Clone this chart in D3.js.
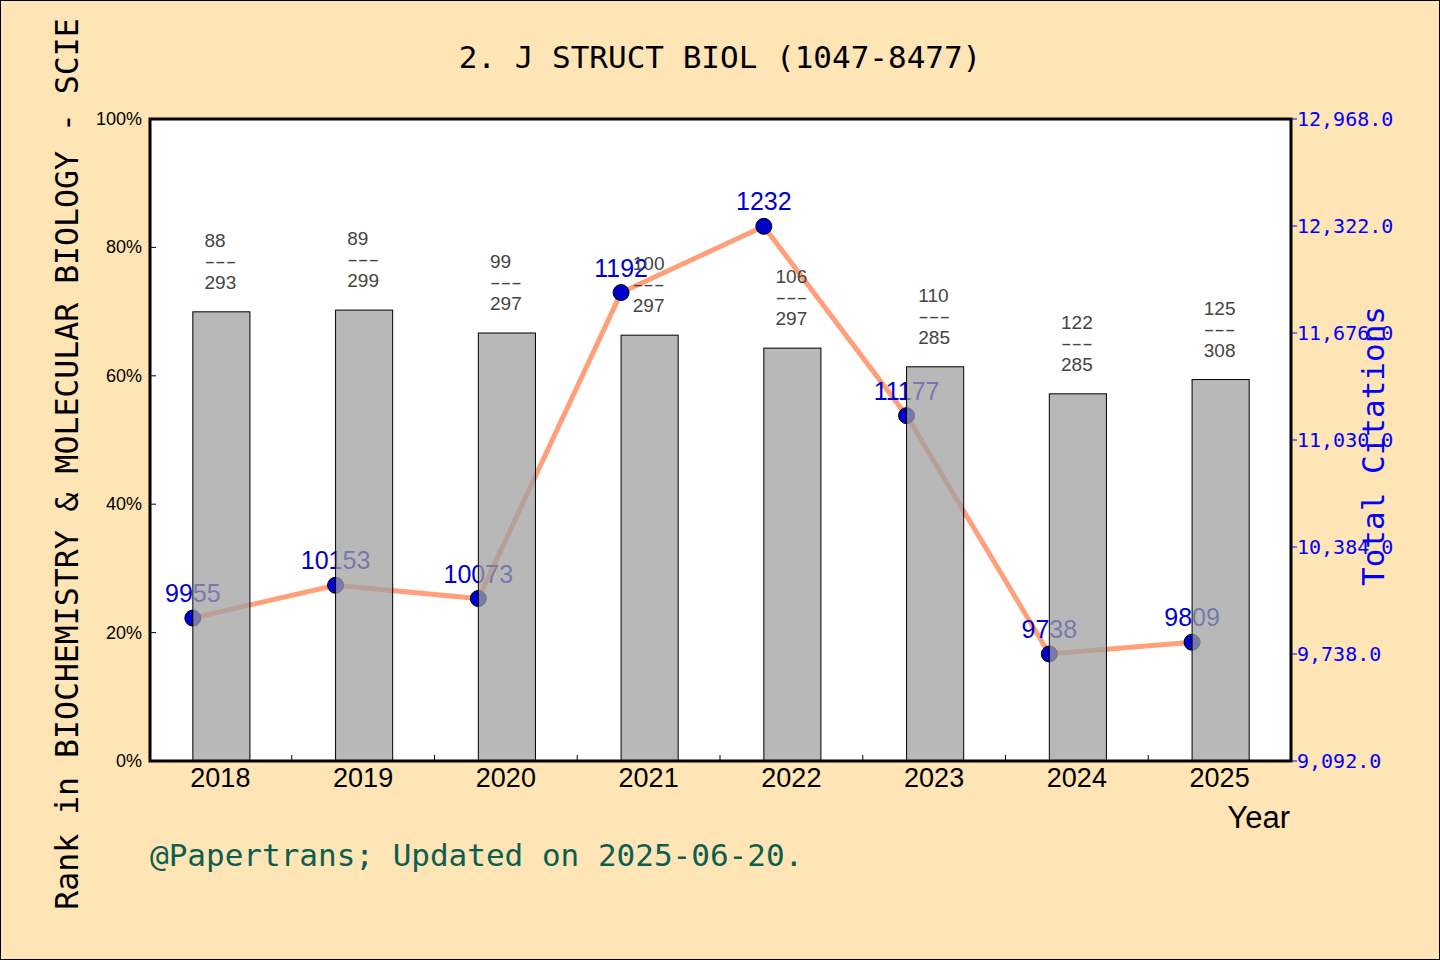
<!DOCTYPE html>
<meta charset="utf-8">
<head lang="en">
    <title>J STRUCT BIOL</title>
    <script src="https://cdn.jsdelivr.net/npm/d3@7/dist/d3.min.js"></script>
    <style type="text/css">
        body { margin: 0; background: #fff; }
        .mono { font-family: "DejaVu Sans Mono", "Liberation Mono", monospace; }
        .sans { font-family: "Liberation Sans", Arial, sans-serif; }
    </style>
</head>
<body>
<script type="text/javascript">

    // data
    var years = ["2018", "2019", "2020", "2021", "2022", "2023", "2024", "2025"];
    var ranks = [88, 89, 99, 100, 106, 110, 122, 125];
    var totals = [293, 299, 297, 297, 297, 285, 285, 308];
    var citations = [9955, 10153, 10073, 11920, 12320, 11177, 9738, 9809];
    var citationLabels = ["9955", "10153", "10073", "1192", "1232", "11177", "9738", "9809"];
    var leftTicks = [0, 0.2, 0.4, 0.6, 0.8, 1.0];
    var rightTicks = [9092, 9738, 10384, 11030, 11676, 12322, 12968];

    var width = 1440;
    var height = 960;
    var plot = {left: 150, right: 1291, top: 119, bottom: 761};

    var svg = d3.select("body")
        .append("svg")
        .attr("width", width)
        .attr("height", height);

    // background + outer border
    svg.append("rect")
        .attr("x", 0.5).attr("y", 0.5)
        .attr("width", width - 1).attr("height", height - 1)
        .style("fill", "#FFE4B5")
        .style("stroke", "#000")
        .style("stroke-width", 1);

    svg.append("rect")
        .attr("x", plot.left).attr("y", plot.top)
        .attr("width", plot.right - plot.left)
        .attr("height", plot.bottom - plot.top)
        .style("fill", "#fff");

    var xScale = d3.scaleBand()
        .domain(years)
        .range([plot.left - 1, plot.right])
        .padding(0);
    var bw = xScale.bandwidth();
    var yScale = d3.scaleLinear()
        .domain([0, 1])
        .range([plot.bottom, plot.top]);
    var y2Scale = d3.scaleLinear()
        .domain([9092, 12968])
        .range([plot.bottom, plot.top]);

    var ds = years.map(function (y, i) {
        return {
            year: y,
            rank: ranks[i],
            total: totals[i],
            ratio: 1 - ranks[i] / totals[i],
            cit: citations[i],
            citLabel: citationLabels[i]
        };
    });

    function center(d) { return xScale(d.year) + bw / 2; }
    function dotX(d) { return center(d) - bw * 0.2 + 1; }

    // citation line
    var line = d3.line()
        .x(dotX)
        .y(function (d) { return y2Scale(d.cit); });
    svg.append("path")
        .datum(ds)
        .attr("d", line)
        .style("fill", "none")
        .style("stroke", "#FFA07A")
        .style("stroke-width", 5);

    svg.selectAll(".dot")
        .data(ds)
        .enter()
        .append("circle")
        .attr("cx", dotX)
        .attr("cy", function (d) { return y2Scale(d.cit); })
        .attr("r", 8)
        .style("fill", "#0000CD")
        .style("stroke", "#000")
        .style("stroke-width", 1);

    svg.selectAll(".citlabel")
        .data(ds)
        .enter()
        .append("text")
        .attr("class", "sans")
        .attr("x", dotX)
        .attr("y", function (d) { return y2Scale(d.cit) - 16; })
        .attr("text-anchor", "middle")
        .style("font-size", "25px")
        .style("fill", "#0000CD")
        .text(function (d) { return d.citLabel; });

    // bars (semi transparent, drawn over the line)
    svg.selectAll(".bar")
        .data(ds)
        .enter()
        .append("rect")
        .attr("x", function (d) { return center(d) - bw * 0.2 + 1; })
        .attr("width", bw * 0.4)
        .attr("y", function (d) { return yScale(d.ratio); })
        .attr("height", function (d) { return plot.bottom - yScale(d.ratio); })
        .style("fill", "rgba(160,160,160,0.75)")
        .style("stroke", "#000")
        .style("stroke-width", 1);

    // rank labels: rank / --- / total, lines left-aligned in a centred block
    ds.forEach(function (d) {
        var g = svg.append("g").attr("class", "sans")
            .style("font-size", "19px")
            .style("fill", "#444");
        var base = yScale(d.ratio) - 23;
        var lines = [String(d.rank), "---", String(d.total)];
        var txt = lines.map(function (s, k) {
            return g.append("text")
                .attr("y", base - (2 - k) * 21)
                .text(s);
        });
        var w = d3.max([txt[0], txt[2]], function (t) { return t.node().getComputedTextLength(); });
        txt.forEach(function (t) { t.attr("x", center(d) - w / 2); });
        // the dashes fill the block width
        txt[1].attr("textLength", w).attr("lengthAdjust", "spacingAndGlyphs");
    });

    // frame
    svg.append("rect")
        .attr("x", plot.left).attr("y", plot.top)
        .attr("width", plot.right - plot.left)
        .attr("height", plot.bottom - plot.top)
        .style("fill", "none")
        .style("stroke", "#000")
        .style("stroke-width", 3);

    // left axis
    var leftAxis = svg.append("g");
    leftAxis.selectAll("line")
        .data(leftTicks)
        .enter()
        .append("line")
        .attr("x1", plot.left).attr("x2", plot.left + 6)
        .attr("y1", function (d) { return yScale(d); })
        .attr("y2", function (d) { return yScale(d); })
        .style("stroke", "#000");
    leftAxis.selectAll("text")
        .data(leftTicks)
        .enter()
        .append("text")
        .attr("class", "sans")
        .attr("x", 142)
        .attr("y", function (d) { return yScale(d) + 6; })
        .attr("text-anchor", "end")
        .style("font-size", "18px")
        .text(function (d) { return d3.format(".0%")(d); });

    // right axis
    var rightAxis = svg.append("g");
    rightAxis.selectAll("line")
        .data(rightTicks)
        .enter()
        .append("line")
        .attr("x1", plot.right).attr("x2", plot.right + 6)
        .attr("y1", function (d) { return y2Scale(d); })
        .attr("y2", function (d) { return y2Scale(d); })
        .style("stroke", "#0000ff");
    rightAxis.selectAll("text")
        .data(rightTicks)
        .enter()
        .append("text")
        .attr("class", "mono")
        .attr("x", 1297)
        .attr("y", function (d) { return y2Scale(d) + 7; })
        .style("font-size", "20px")
        .style("fill", "#0000ff")
        .text(function (d) { return d3.format(",.1f")(d); });

    // bottom axis: minor ticks between slots, labels at centers
    svg.selectAll(".xtick")
        .data(years.slice(1))
        .enter()
        .append("line")
        .attr("x1", function (d) { return xScale(d); })
        .attr("x2", function (d) { return xScale(d); })
        .attr("y1", plot.bottom)
        .attr("y2", plot.bottom - 6)
        .style("stroke", "#000");
    svg.selectAll(".xlabel")
        .data(ds)
        .enter()
        .append("text")
        .attr("class", "sans")
        .attr("x", center)
        .attr("y", 787)
        .attr("text-anchor", "middle")
        .style("font-size", "27px")
        .text(function (d) { return d.year; });

    // titles
    svg.append("text")
        .attr("class", "mono")
        .attr("x", 720)
        .attr("y", 68)
        .attr("text-anchor", "middle")
        .style("font-size", "31px")
        .text("2. J STRUCT BIOL (1047-8477)");

    svg.append("text")
        .attr("class", "sans")
        .attr("x", 1290)
        .attr("y", 828)
        .attr("text-anchor", "end")
        .style("font-size", "31px")
        .text("Year");

    svg.append("text")
        .attr("class", "mono")
        .attr("transform", "translate(78,464) rotate(-90)")
        .attr("text-anchor", "middle")
        .style("font-size", "31.5px")
        .text("Rank in BIOCHEMISTRY & MOLECULAR BIOLOGY - SCIE");

    svg.append("text")
        .attr("class", "mono")
        .attr("transform", "translate(1384,446) rotate(-90)")
        .attr("text-anchor", "middle")
        .style("font-size", "31px")
        .style("fill", "#0000ff")
        .text("Total Citations");

    svg.append("text")
        .attr("class", "mono")
        .attr("x", 150)
        .attr("y", 866)
        .style("font-size", "31px")
        .style("fill", "#0B5E50")
        .text("@Papertrans; Updated on 2025-06-20.");

</script>
</body>
